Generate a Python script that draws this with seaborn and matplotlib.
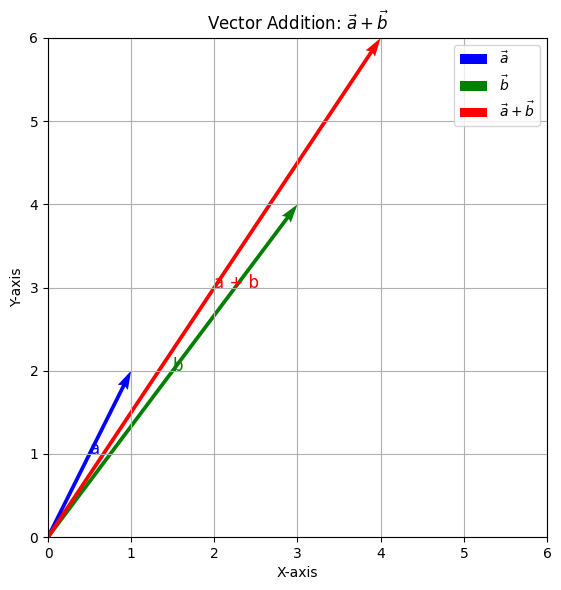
import numpy as np
import seaborn as sns
import matplotlib
matplotlib.use("Agg")
import matplotlib.pyplot as plt

# === Vector data ===
names = ["a", "b", "a + b"]
legend_labels = [r"$\vec{a}$", r"$\vec{b}$", r"$\vec{a} + \vec{b}$"]
vec_x = [1, 3, 4]
vec_y = [2, 4, 6]
colors = ["blue", "green", "red"]

# seaborn loaded, but keep matplotlib's classic look
sns.reset_orig()

fig, ax = plt.subplots(figsize=(5.61, 5.9), dpi=100)
fig.subplots_adjust(left=0.0856, right=0.975, top=0.9356, bottom=0.0898)

for vx, vy, c, lab, nm in zip(vec_x, vec_y, colors, legend_labels, names):
    ax.quiver(0, 0, vx, vy, angles="xy", scale_units="xy", scale=1,
              color=c, label=lab)
    ax.text(vx / 2, vy / 2, nm, color=c, fontsize=12)

ax.set_xlim(0, 6)
ax.set_ylim(0, 6)
ax.set_xlabel("X-axis")
ax.set_ylabel("Y-axis")
ax.set_title(r"Vector Addition: $\vec{a} + \vec{b}$")
ax.grid(True)
ax.legend(loc="upper right")

plt.savefig("out.png", dpi=100)
